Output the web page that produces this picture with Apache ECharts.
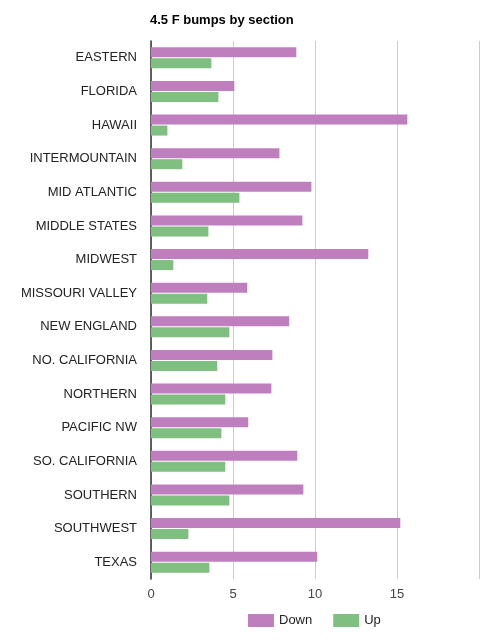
<!DOCTYPE html>
<html>
<head>
<meta charset="utf-8">
<script src="https://cdn.jsdelivr.net/npm/echarts@6/dist/echarts.min.js"></script>
<style>
  html, body { margin: 0; padding: 0; background: #fff; }
  #chart { width: 480px; height: 640px; }
</style>
</head>
<body>
<div id="chart"></div>
<script>
const sections = ['EASTERN', 'FLORIDA', 'HAWAII', 'INTERMOUNTAIN', 'MID ATLANTIC', 'MIDDLE STATES',
  'MIDWEST', 'MISSOURI VALLEY', 'NEW ENGLAND', 'NO. CALIFORNIA', 'NORTHERN', 'PACIFIC NW',
  'SO. CALIFORNIA', 'SOUTHERN', 'SOUTHWEST', 'TEXAS']
const down = [8.86, 5.08, 15.63, 7.83, 9.78, 9.23, 13.25, 5.87, 8.43, 7.40, 7.34, 5.93, 8.92, 9.29, 15.2, 10.14]
const up = [3.68, 4.11, 1.0, 1.91, 5.39, 3.50, 1.36, 3.43, 4.78, 4.04, 4.53, 4.29, 4.53, 4.78, 2.28, 3.56]
const xTicks = [0, 5, 10, 15]

const chart = echarts.init(document.getElementById('chart'))

chart.setOption({
  animation: false,
  title: {
    text: '4.5 F bumps by section',
    left: 150,
    top: 14,
    padding: 0,
    textStyle: { fontFamily: 'Liberation Sans', fontSize: 13, fontWeight: 'bold', color: '#000' }
  },
  legend: {
    top: 614,
    left: 248,
    padding: 0,
    itemWidth: 26,
    itemHeight: 13,
    itemGap: 21,
    icon: 'rect',
    textStyle: { fontFamily: 'Liberation Sans', fontSize: 13, color: '#222' },
    data: ['Down', 'Up']
  },
  grid: { left: 151, right: 1, top: 41, bottom: 61, containLabel: false, outerBoundsMode: 'none' },
  xAxis: {
    type: 'value',
    min: 0,
    max: 20,
    interval: 5,
    axisLine: { show: false },
    axisTick: { show: false },
    splitLine: { lineStyle: { color: '#cccccc', width: 1 } },
    axisLabel: {
      fontFamily: 'Liberation Sans', fontSize: 13, color: '#444', margin: 9,
      formatter: v => (xTicks.includes(v) ? String(v) : '')
    }
  },
  yAxis: {
    type: 'category',
    data: sections,
    inverse: true,
    axisLine: { lineStyle: { color: '#333', width: 1.5 } },
    axisTick: { show: false },
    axisLabel: { fontFamily: 'Liberation Sans', fontSize: 13, color: '#222', margin: 14 }
  },
  series: [
    {
      name: 'Down',
      type: 'bar',
      data: down,
      barWidth: 10,
      barGap: '10%',
      itemStyle: { color: '#bf7fbf' }
    },
    {
      name: 'Up',
      type: 'bar',
      data: up,
      barWidth: 10,
      itemStyle: { color: '#7fbf7f' }
    }
  ]
})
</script>
</body>
</html>
